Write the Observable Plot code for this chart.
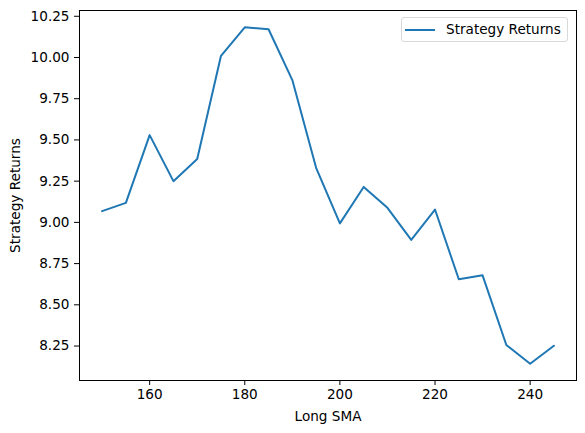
<!DOCTYPE html>
<html>
<head>
<meta charset="utf-8">
<script src="https://cdn.jsdelivr.net/npm/d3@7"></script>
<script src="https://cdn.jsdelivr.net/npm/@observablehq/plot@0.6"></script>
<style>
  html, body { margin: 0; padding: 0; background: #fff; }
  #wrap { position: relative; width: 585px; height: 433px; font-family: "DejaVu Sans", sans-serif; }
  #legend { position: absolute; left: 401px; top: 17px; width: 167px; height: 25px; border: 1px solid #d9d9d9; border-radius: 3px; background: rgba(255,255,255,0.8); box-sizing: border-box; font-size: 13.6px; color: #000; }
  #legend .sw { position: absolute; left: 3px; top: 11px; width: 30px; height: 2px; background: #1f77b4; }
  #legend .tx { position: absolute; left: 44px; top: 3px; white-space: nowrap; }
</style>
</head>
<body>
<div id="wrap">
  <div id="chart"></div>
  <div id="legend"><div class="sw"></div><div class="tx">Strategy Returns</div></div>
</div>
<script>
const longSMA = [150,155,160,165,170,175,180,185,190,195,200,205,210,215,220,225,230,235,240,245];
const strategyReturns = [9.068,9.118,9.529,9.250,9.384,10.010,10.183,10.171,9.863,9.331,8.994,9.215,9.088,8.894,9.078,8.655,8.679,8.256,8.143,8.252];
const xTicks = [160,180,200,220,240];
const yTicks = [8.25,8.50,8.75,9.00,9.25,9.50,9.75,10.00,10.25];

const data = longSMA.map((x, i) => ({x, y: strategyReturns[i]}));
function padDomain(vals) {
  const lo = d3.min(vals), hi = d3.max(vals), m = (hi - lo) * 0.05;
  return [lo - m, hi + m];
}

const chart = Plot.plot({
  width: 585,
  height: 433,
  marginLeft: 79,
  marginTop: 10,
  marginRight: 9,
  marginBottom: 53,
  style: { fontFamily: "DejaVu Sans, sans-serif", fontSize: "13.6px", color: "#000", background: "#fff" },
  x: { domain: padDomain(longSMA) },
  y: { domain: padDomain(strategyReturns) },
  marks: [
    Plot.axisX({ ticks: xTicks, tickSize: 5, tickPadding: 4, tickFormat: d3.format("d"), label: "Long SMA", labelAnchor: "center", labelArrow: "none", labelOffset: 40, fontSize: 13.6 }),
    Plot.axisY({ ticks: yTicks, tickSize: 5, tickPadding: 5, tickFormat: d3.format(".2f"), label: "Strategy Returns", labelAnchor: "center", labelArrow: "none", labelOffset: 69, fontSize: 13.6 }),
    Plot.line(data, { x: "x", y: "y", stroke: "#1f77b4", strokeWidth: 2 }),
    Plot.frame({ stroke: "#000", strokeWidth: 1 })
  ]
});
document.getElementById("chart").appendChild(chart);
</script>
</body>
</html>
